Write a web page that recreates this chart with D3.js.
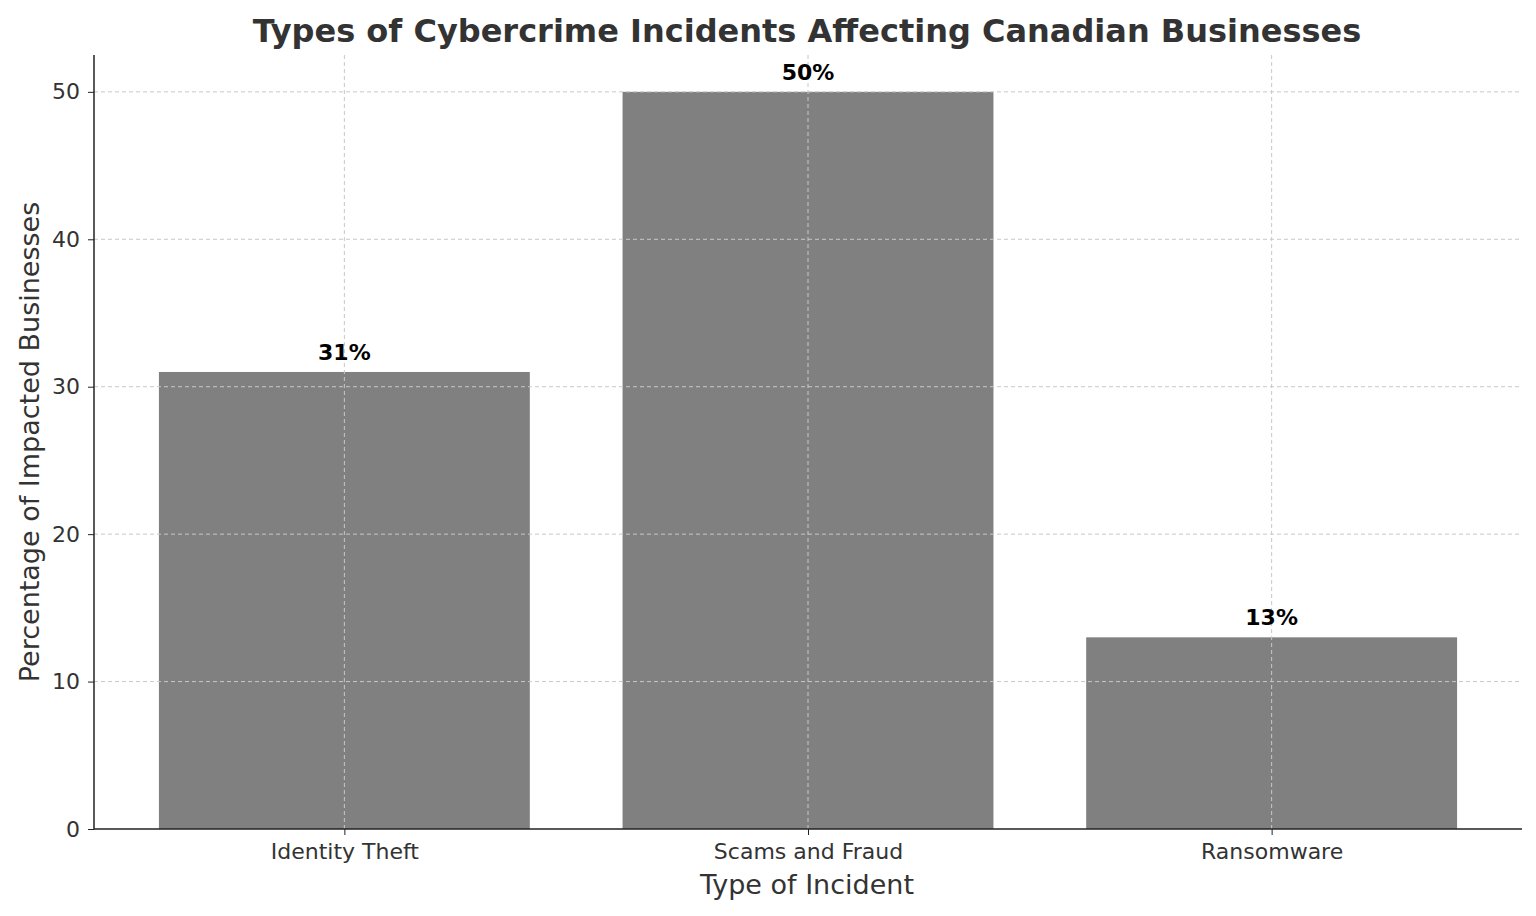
<!DOCTYPE html>
<html><head><meta charset="utf-8">
<script src="https://cdn.jsdelivr.net/npm/d3@7"></script>
<style>body{margin:0;background:#fff}svg{display:block;font-family:"DejaVu Sans",sans-serif}</style>
</head><body><svg id="c" width="1536" height="916"></svg>
<script>
const categories = ["Identity Theft","Scams and Fraud","Ransomware"];
const values = [31,50,13];
const yTicks = [0,10,20,30,40,50];
const title = "Types of Cybercrime Incidents Affecting Canadian Businesses";

const svg = d3.select("#c");
const L=94,R=1522,T=55,B=829;
const x = d3.scaleLinear().domain([-0.54,2.54]).range([L,R]);
const y = d3.scaleLinear().domain([0,52.5]).range([B,T]);
const bw = x(0.4)-x(-0.4);

svg.selectAll("rect.bar").data(values).join("rect")
  .attr("x",(d,i)=>x(i)-bw/2).attr("y",d=>y(d)).attr("width",bw)
  .attr("height",d=>B-y(d)).attr("fill","#808080");

const g = svg.append("g").attr("stroke","#c8c8c8").attr("stroke-dasharray","4,3").attr("stroke-width",1);
yTicks.slice(1).forEach(t=>g.append("line").attr("x1",L).attr("x2",R).attr("y1",y(t)).attr("y2",y(t)));
categories.forEach((c,i)=>g.append("line").attr("x1",x(i)).attr("x2",x(i)).attr("y1",T).attr("y2",B));

const ya = svg.append("g").attr("transform",`translate(${L},0)`)
  .call(d3.axisLeft(y).tickValues(yTicks).tickSize(6).tickPadding(8));
ya.select(".domain").attr("d",`M0,${T}V${B}`).attr("stroke","#222").attr("stroke-width",1.5);
ya.selectAll("text").attr("font-size",22).attr("fill","#333").attr("font-family","DejaVu Sans");
ya.selectAll("line").attr("stroke","#222");

const xa = svg.append("g").attr("transform",`translate(0,${B})`)
  .call(d3.axisBottom(x).tickValues([0,1,2]).tickFormat(i=>categories[i]).tickSize(6).tickPadding(8));
xa.select(".domain").attr("d",`M${L},0H${R}`).attr("stroke","#222").attr("stroke-width",1.5);
xa.selectAll("text").attr("font-size",22).attr("fill","#333").attr("font-family","DejaVu Sans");
xa.selectAll("line").attr("stroke","#222");

svg.selectAll("text.val").data(values).join("text")
  .attr("x",(d,i)=>x(i)).attr("y",d=>y(d)-12).attr("text-anchor","middle")
  .attr("font-size",22).attr("font-weight","bold").attr("fill","#000").text(d=>d+"%");

svg.append("text").attr("x",807).attr("y",42).attr("text-anchor","middle")
  .attr("font-size",32).attr("font-weight","bold").attr("fill","#333").text(title);
svg.append("text").attr("x",807).attr("y",894).attr("text-anchor","middle")
  .attr("font-size",27).attr("fill","#333").text("Type of Incident");
svg.append("text").attr("transform","translate(39,442) rotate(-90)").attr("text-anchor","middle")
  .attr("font-size",27).attr("fill","#333").text("Percentage of Impacted Businesses");
</script></body></html>
